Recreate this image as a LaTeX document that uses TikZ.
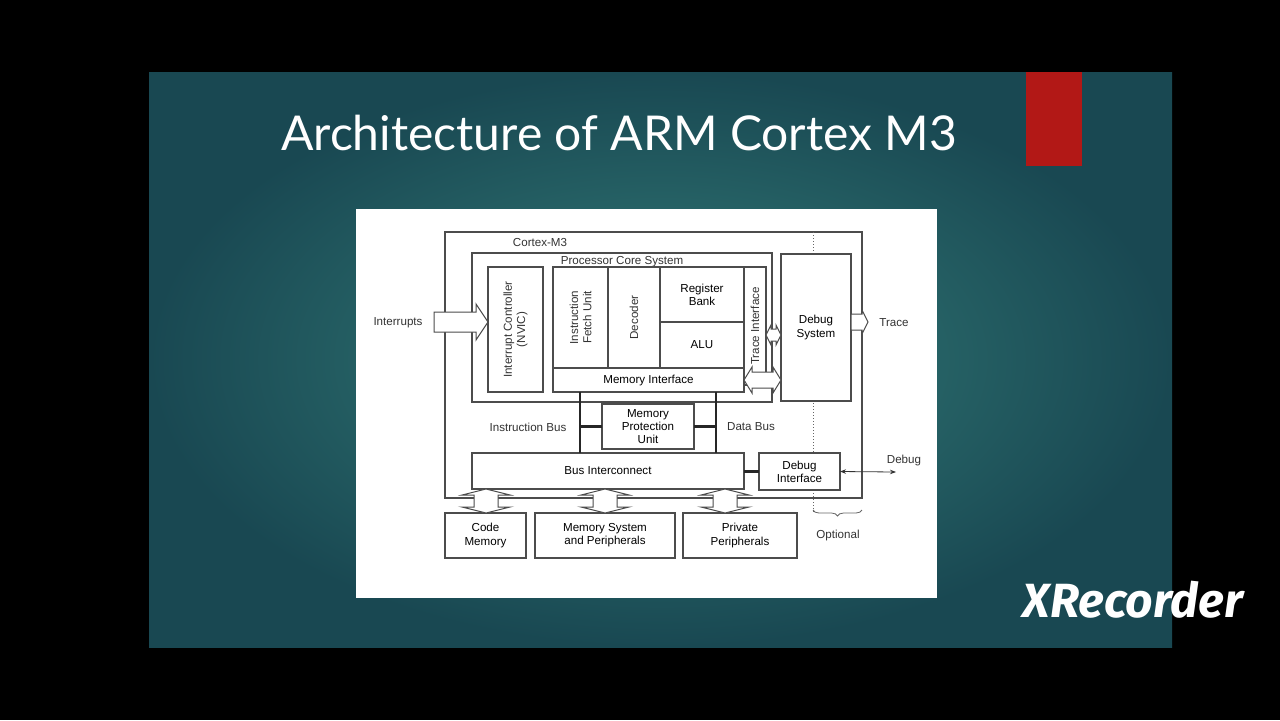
\documentclass[tikz,border=0pt]{standalone}
\usepackage{fontspec}
\setmainfont{Liberation Sans}
\newfontfamily\titlefont{Lato}
\newfontfamily\recfont{Fira Sans}
\usetikzlibrary{decorations.pathreplacing,arrows.meta}
\definecolor{slidein}{RGB}{52,126,122}
\definecolor{slideout}{RGB}{25,72,82}
\definecolor{accent}{RGB}{178,24,22}

\begin{document}
\begin{tikzpicture}[x=0.5pt,y=-0.5pt]
\tikzset{
  blk/.style={draw=black!70,fill=white,line width=0.6pt,inner sep=0,outer sep=0,align=center,font=\fontsize{5.8}{6.6}\selectfont},
  lbl/.style={inner sep=0,align=center,font=\fontsize{5.8}{6.6}\selectfont,text=black!80},
  fat/.style={draw=black!70,fill=white,line width=0.5pt},
  bus/.style={line width=1.4pt,black!85},
  % length, body half, head half, head length
  pics/fatsingle/.style n args={4}{code={
    \draw[fat] (0,-#2) -- (#1-#4,-#2) -- (#1-#4,-#3) -- (#1,0) -- (#1-#4,#3) -- (#1-#4,#2) -- (0,#2) -- cycle;}},
  pics/fatdouble/.style n args={4}{code={
    \draw[fat] (-#1/2,0) -- (-#1/2+#4,-#3) -- (-#1/2+#4,-#2) -- (#1/2-#4,-#2) -- (#1/2-#4,-#3) -- (#1/2,0)
      -- (#1/2-#4,#3) -- (#1/2-#4,#2) -- (-#1/2+#4,#2) -- (-#1/2+#4,#3) -- cycle;}}
}
% ========= screen
\useasboundingbox (0,0) rectangle (1280,720);
\fill[black] (0,0) rectangle (1280,720);
\shade[inner color=slidein,outer color=slideout] (149,72) rectangle (1172,647);
\fill[accent] (1026,72) rectangle (1082,166);
\node (title) at (619,133) [text=white,font=\titlefont\fontsize{24}{28}\selectfont] {Architecture of ARM Cortex M3};
\node (rec) at (1133,600) [text=white,font=\recfont\bfseries\itshape\fontsize{24}{28}\selectfont] {XRecorder};
\fill[white] (356,209) rectangle (937,598);
% ========= outer blocks
\node (m3) at (653.5,365) [blk,fill=none,minimum width=208.5pt,minimum height=133pt] {};
\draw[black!60,densely dotted,line width=0.5pt] (813,232) -- (813,512);
\node (pcs) at (622,327.5) [blk,minimum width=150pt,minimum height=74.5pt] {};
\node (dbg) at (816,327.5) [blk,minimum width=35pt,minimum height=73.5pt] {Debug\\System};
\node [lbl] at (540,242) {Cortex-M3};
\node [lbl] at (622,262) {Processor Core System};
% ========= core
\node (nvic) at (515.5,329.5) [blk,minimum width=27.5pt,minimum height=62.5pt] {};
\node [lbl,rotate=90] at (nvic) {Interrupt Controller\\(NVIC)};
\node (ifu) at (580.5,317.5) [blk,minimum width=27.5pt,minimum height=50.5pt] {};
\node [lbl,rotate=90] at (ifu) {Instruction\\Fetch Unit};
\node (dec) at (634,317.5) [blk,minimum width=26pt,minimum height=50.5pt] {};
\node [lbl,rotate=90] at (dec) {Decoder};
\node (reg) at (702,294.5) [blk,minimum width=42pt,minimum height=27.5pt] {Register\\Bank};
\node (alu) at (702,345) [blk,minimum width=42pt,minimum height=23pt] {ALU};
\node (trc) at (755,326) [blk,minimum width=11pt,minimum height=59pt] {};
\node [lbl,rotate=90] at (trc) {Trace Interface};
\node (memif) at (648.5,380) [blk,minimum width=95.5pt,minimum height=12pt] {Memory Interface};
% ========= buses
\node (mpu) at (648,426.5) [blk,minimum width=46pt,minimum height=22.5pt] {Memory\\Protection\\Unit};
\node (busic) at (608,471) [blk,minimum width=136pt,minimum height=18pt] {Bus Interconnect};
\node (dbgif) at (799.5,471.5) [blk,minimum width=40.5pt,minimum height=18.5pt] {Debug\\Interface};
\coordinate (ibus) at (580,0);
\coordinate (dbus) at (716,0);
\draw[bus] (memif.south -| ibus) -- (busic.north -| ibus);
\draw[bus] (memif.south -| dbus) -- (busic.north -| dbus);
\draw[bus] (mpu.west) -- (mpu.west -| ibus);
\draw[bus] (mpu.east) -- (mpu.east -| dbus);
\draw[bus] (busic.east |- dbgif.west) -- (dbgif.west);
\node [lbl] at (528,427) {Instruction Bus};
\node [lbl] at (751,427) {Data Bus};
% ========= memories
\node (code) at (485.5,535.5) [blk,minimum width=40.5pt,minimum height=22.5pt] {Code\\Memory};
\node (memsys) at (605,535.5) [blk,minimum width=70pt,minimum height=22.5pt] {Memory System\\and Peripherals};
\node (priv) at (740,535.5) [blk,minimum width=57pt,minimum height=22.5pt] {Private\\Peripherals};
% ========= fat arrows
\pic at (434,322) {fatsingle={54}{10}{18}{12}};
\pic at (851,322) {fatsingle={17}{8}{12}{6}};
\pic at (773.5,335) {fatdouble={15}{6}{10}{5}};
\pic at (762.5,380) {fatdouble={37}{8}{13}{8}};
\foreach \x in {486,605,725}
  \pic[rotate=90] at (\x,501) {fatdouble={24}{12}{24}{6}};
\node [lbl] at (398,323) {Interrupts};
\node [lbl] at (894,323) {Trace};
% ========= debug port
\coordinate (dport) at (896,472);
\draw[{Stealth[length=3pt]}-{Stealth[length=3pt]},black!80,line width=0.4pt] (dbgif.east) -- (dport);
\node [lbl] at (904,460) {Debug};
\draw[decorate,decoration={brace,amplitude=3pt},black!60,line width=0.4pt] (862,510) -- (813,510);
\node [lbl] at (838,535) {Optional};
\end{tikzpicture}
\end{document}
